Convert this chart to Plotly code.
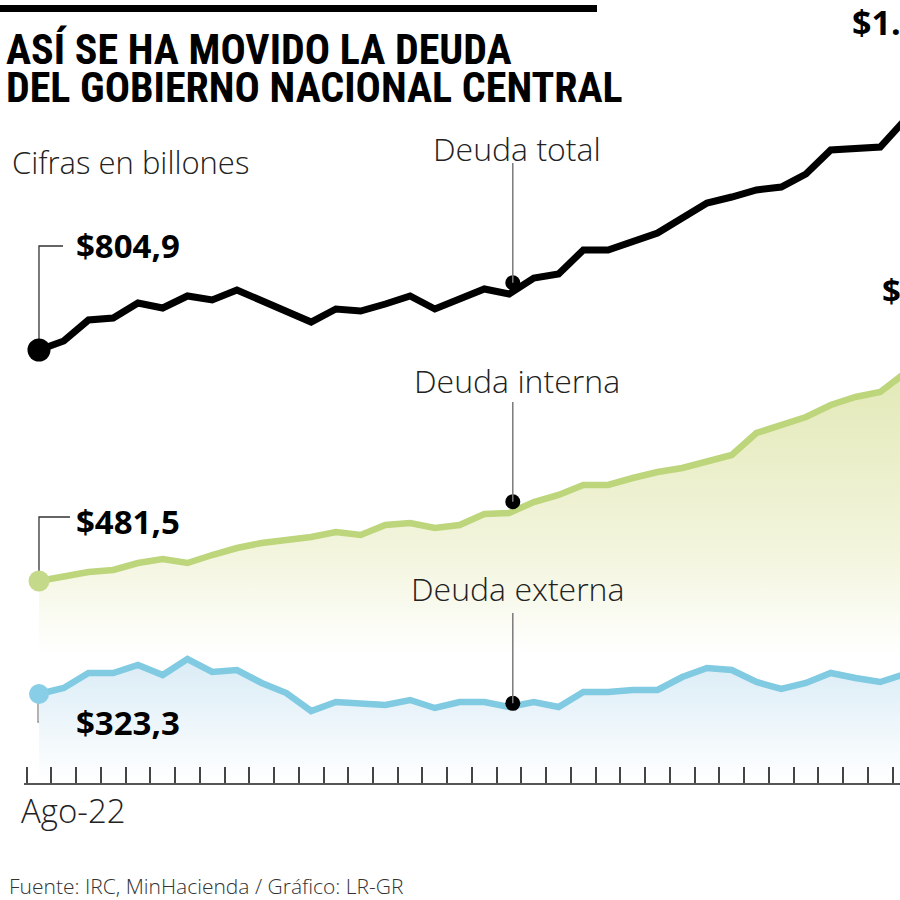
import plotly.graph_objects as go

# ---------------- data (billones de pesos) ----------------
total = [804.9, 817.5, 846.9, 849.7, 870.7, 863.7, 880.5, 874.9, 888.9, 873.5,
         859.5, 844.1, 862.3, 859.5, 869.3, 880.5, 862.3, 876.3, 890.3, 883.3,
         905.7, 911.3, 944.9, 944.9, 957.5, 968.7, 989.7, 1010.7, 1019.1, 1028.9,
         1033.1, 1051.3, 1084.9, 1086.3, 1089.1, 1126.9]
interna = [481.5, 488.5, 494.1, 496.9, 506.7, 512.3, 506.7, 517.9, 527.7, 534.7,
           538.9, 543.1, 550.1, 545.9, 559.9, 562.7, 555.7, 559.9, 575.3, 576.7,
           592.1, 601.9, 615.9, 615.9, 625.7, 634.1, 639.7, 648.1, 657.9, 688.7,
           699.9, 711.1, 727.9, 739.1, 746.1, 772.7]
externa = [323.3, 331.7, 352.7, 352.7, 363.9, 349.9, 372.3, 354.1, 356.9, 338.7,
           324.7, 299.5, 312.1, 310.7, 307.9, 314.9, 303.7, 312.1, 312.1, 305.1,
           312.1, 305.1, 326.1, 326.1, 328.9, 328.9, 347.1, 359.7, 356.9, 340.1,
           330.3, 338.7, 352.7, 345.7, 340.1, 351.3]
idx = list(range(len(total)))
first_label = "Ago-22"
start_labels = ["$804,9", "$481,5", "$323,3"]
end_labels = ["$1.126,9", "$772,7"]
series_names = ["Deuda total", "Deuda interna", "Deuda externa"]
# label anchor (index position, dot value, leader top value, text value)
anchor_x = 19.15
label_x = 19.32
dot_vals = [899.1, 592.5, 310.2]
leader_top = [1066.7, 732.1, 436.7]
label_vals = [1087.7, 762.9, 471.7]

# ---------------- layout helpers ----------------
W, H = 900, 900
L, B = 24, 117
PW, PH = W - L, H - B


def px(xp):
    return (xp - L) / PW


def py(yp):
    return (PH - yp) / PH


LIGHT = "Open Sans"
BOLD = "Open Sans"
TITLE = "Liberation Sans Narrow, Roboto Condensed, DejaVu Sans Condensed, Arial Narrow, sans-serif"

fig = go.Figure()

fig.add_trace(go.Scatter(
    x=idx, y=interna, mode="lines",
    line=dict(color="#bdd57b", width=6.5),
    fill="tozeroy",
    fillgradient=dict(type="vertical", start=378, stop=777,
                      colorscale=[[0, "#ffffff"], [0.35, "#f3f5de"], [1, "#e2e9b6"]]),
    hoverinfo="skip"))

fig.add_trace(go.Scatter(
    x=idx, y=externa, mode="lines",
    line=dict(color="#80cae2", width=6.5),
    fill="tozeroy",
    fillgradient=dict(type="vertical", start=199, stop=370,
                      colorscale=[[0, "#ffffff"], [1, "#daecf6"]]),
    hoverinfo="skip"))

fig.add_trace(go.Scatter(
    x=idx, y=total, mode="lines",
    line=dict(color="#000000", width=7),
    hoverinfo="skip"))

# start dots
fig.add_trace(go.Scatter(
    x=[idx[0]] * 3, y=[total[0], interna[0], externa[0]], mode="markers",
    marker=dict(size=[23, 21, 20], color=["#000000", "#c4d98a", "#88cee6"],
                opacity=1, line=dict(width=0)),
    hoverinfo="skip"))

# label anchor dots
fig.add_trace(go.Scatter(
    x=[anchor_x] * 3, y=dot_vals, mode="markers",
    marker=dict(size=15, color="#000000", opacity=1, line=dict(width=0)),
    hoverinfo="skip"))

shapes = []
# leader lines
for d, t in zip(dot_vals, leader_top):
    shapes.append(dict(type="line", xref="x", yref="y", x0=anchor_x, x1=anchor_x, y0=d, y1=t,
                       line=dict(color="#7a7a7a", width=1.5)))

# corner connectors for start labels (pixel offsets anchored at first point)
conn = [
    (total[0], "M0,0 L0,104 L24,104", "#333333"),
    (interna[0], "M0,0 L0,64 L31,64", "#333333"),
    (externa[0], "M-1,0 L-1,-28 L26,-28", "#8a8a8a"),
]
for v, path, col in conn:
    shapes.append(dict(type="path", xref="x", yref="y", xsizemode="pixel", ysizemode="pixel",
                       xanchor=idx[0], yanchor=v, path=path,
                       line=dict(color=col, width=1.3), layer="below"))

# top black bar
shapes.append(dict(type="rect", xref="paper", yref="paper",
                   x0=px(0), x1=px(597), y0=py(12), y1=py(5),
                   fillcolor="#000000", line=dict(width=0)))

ann = []
# title
ann.append(dict(xref="paper", yref="paper", x=px(4), y=py(49), xanchor="left", yanchor="middle",
                text="<b>ASÍ SE HA MOVIDO LA DEUDA</b>", showarrow=False,
                font=dict(family=TITLE, size=42, color="#000000")))
ann.append(dict(xref="paper", yref="paper", x=px(4), y=py(88), xanchor="left", yanchor="middle",
                text="<b>DEL GOBIERNO NACIONAL CENTRAL</b>", showarrow=False,
                font=dict(family=TITLE, size=42, color="#000000")))
ann.append(dict(xref="paper", yref="paper", x=px(10), y=py(162), xanchor="left", yanchor="middle",
                text="Cifras en billones", showarrow=False,
                font=dict(family=LIGHT, size=31, color="#222222", weight=300)))

# start value labels
starts = [total[0], interna[0], externa[0]]
shifts = [105, 60, -28]
for v, s, t in zip(starts, shifts, start_labels):
    ann.append(dict(xref="x", yref="y", x=idx[0], y=v, xshift=35, yshift=s,
                    xanchor="left", yanchor="middle", text="<b>" + t + "</b>", showarrow=False,
                    font=dict(family=BOLD, size=33, color="#000000")))

# series labels
for v, t in zip(label_vals, series_names):
    ann.append(dict(xref="x", yref="y", x=label_x, y=v, xanchor="center", yanchor="middle",
                    text=t, showarrow=False,
                    font=dict(family=LIGHT, size=32, color="#222222", weight=300)))

# end labels (cropped at right edge)
ann.append(dict(xref="paper", yref="paper", x=px(850), y=py(22), xanchor="left", yanchor="middle",
                text="<b>" + end_labels[0] + "</b>", showarrow=False,
                font=dict(family=BOLD, size=34, color="#000000")))
ann.append(dict(xref="paper", yref="paper", x=px(880), y=py(290), xanchor="left", yanchor="middle",
                text="<b>" + end_labels[1] + "</b>", showarrow=False,
                font=dict(family=BOLD, size=33, color="#000000")))

# first month label
ann.append(dict(xref="paper", yref="paper", x=px(19), y=py(810), xanchor="left", yanchor="middle",
                text=first_label, showarrow=False,
                font=dict(family=LIGHT, size=33, color="#222222", weight=300)))
# source
ann.append(dict(xref="paper", yref="paper", x=px(7), y=py(886), xanchor="left", yanchor="middle",
                text="Fuente: IRC, MinHacienda / Gráfico: LR-GR", showarrow=False,
                font=dict(family=LIGHT, size=21, color="#333333", weight=300)))

fig.update_layout(
    width=W, height=H,
    margin=dict(l=L, r=0, t=0, b=B, pad=0),
    paper_bgcolor="#ffffff", plot_bgcolor="#ffffff",
    showlegend=False,
    shapes=shapes, annotations=ann,
    xaxis=dict(range=[-0.606, 34.80], showgrid=False, zeroline=False,
               tickvals=[i - 0.5 for i in idx], ticktext=[""] * len(idx),
               ticks="inside", ticklen=16, tickwidth=1.5, tickcolor="#444444",
               showline=True, linecolor="#555555", linewidth=1.5, showticklabels=False,
               fixedrange=True),
    yaxis=dict(range=[198.7, 1294.9], visible=False, fixedrange=True),
)

fig.write_html("out.html", config={"displayModeBar": False})
